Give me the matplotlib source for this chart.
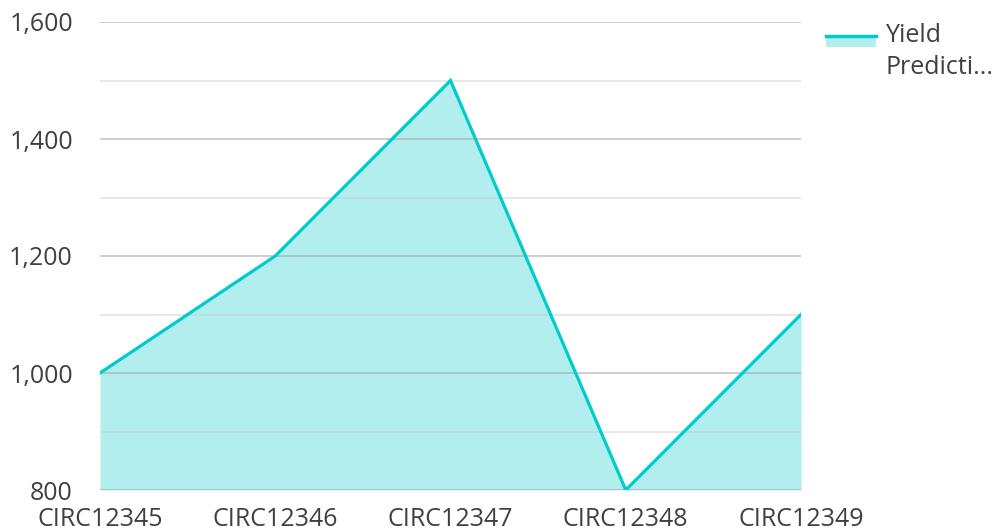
import numpy as np
import matplotlib.pyplot as plt
from matplotlib.lines import Line2D
from matplotlib.patches import Rectangle

# data
circuits = ["CIRC12345", "CIRC12346", "CIRC12347", "CIRC12348", "CIRC12349"]
yield_pred = [1000, 1200, 1500, 800, 1100]

LINE = "#00cccc"
FILL = "#b2eeee"
TEXT = "#404040"
FS = 18

plt.rcParams["font.family"] = ["Open Sans", "DejaVu Sans"]

W, H = 993, 531
fig = plt.figure(figsize=(W / 100, H / 100), dpi=100)
ax = fig.add_axes([100 / W, 1 - 490 / H, 701 / W, 468 / H])

x = np.arange(len(circuits))
ax.fill_between(x, 800, yield_pred, color=FILL, lw=0, zorder=1)
ax.plot(x, yield_pred, color=LINE, lw=2.3, zorder=3, solid_joinstyle="miter")

ax.set_xlim(0, len(circuits) - 1)
ax.set_ylim(800, 1600)
ax.set_yticks([800, 1000, 1200, 1400, 1600])
ax.set_yticks([900, 1100, 1300, 1500], minor=True)
ax.yaxis.set_major_formatter(plt.FuncFormatter(lambda v, p: f"{v:,.0f}"))
ax.set_xticks(x)
ax.set_xticklabels(circuits)

ax.grid(axis="y", which="major", color="#a0a0a0", alpha=0.55, lw=1.3, zorder=2)
ax.grid(axis="y", which="minor", color="#c8c8c8", alpha=0.45, lw=1.3, zorder=2)
ax.set_axisbelow(False)
for s in ax.spines.values():
    s.set_visible(False)
ax.tick_params(axis="both", which="both", length=0, labelsize=FS, colors=TEXT)
ax.tick_params(axis="y", pad=19.5)
ax.tick_params(axis="x", pad=12)

# legend drawn by hand: line on top of fill swatch, wrapped/truncated label
fig.add_artist(Rectangle((826 / W, 1 - 47 / H), 50 / W, 12 / H,
                         transform=fig.transFigure, color=FILL, lw=0))
fig.add_artist(Line2D([826 / W, 876 / W], [1 - 36 / H, 1 - 36 / H],
                      transform=fig.transFigure, color=LINE, lw=2.5))
fig.text(886 / W, 1 - 36 / H, "Yield", fontsize=FS, color=TEXT, va="center")
fig.text(886 / W, 1 - 68 / H, "Predicti...", fontsize=FS, color=TEXT, va="center")

fig.savefig("out.png", dpi=100)
